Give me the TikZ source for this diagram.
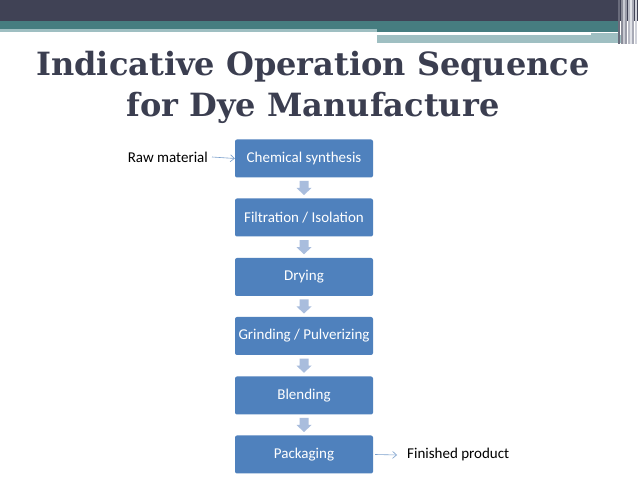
\documentclass[tikz,border=0pt]{standalone}
\usepackage{fontspec}
\setmainfont{Carlito}
\newfontfamily\titlefont{DejaVu Serif}
\usetikzlibrary{arrows.meta,calc}
\definecolor{hdark}{HTML}{404255}
\definecolor{hteal}{HTML}{467D80}
\definecolor{hlight}{HTML}{9FBFC2}
\definecolor{boxblue}{HTML}{4F81BD}
\definecolor{arrlight}{HTML}{A9BDDD}
\definecolor{titlecol}{HTML}{3B3E50}
\tikzset{
  stepbox/.style={fill=boxblue, rounded corners=2pt, minimum width=138pt, minimum height=38pt, text=white, font=\fontsize{15}{17}\selectfont, inner sep=0pt},
  downarr/.style={fill=arrlight, draw=none},
  sidelabel/.style={font=\fontsize{15}{17}\selectfont, text=black, inner sep=0pt},
  flowline/.style={draw=boxblue!75, line width=0.6pt, -{Straight Barb[length=4pt,width=7pt]}}
}
\begin{document}
\begin{tikzpicture}[x=1pt,y=-1pt]
\useasboundingbox (0,0) rectangle (638,478);
\fill[white] (0,0) rectangle (638,478);
% header
\fill[hdark] (0,0) rectangle (638,21);
\fill[hteal] (0,21) rectangle (618,29);
\fill[hlight] (0,29) rectangle (377,32);
\fill[hteal] (377,29) rectangle (618,32.5);
\fill[hlight] (377,35) rectangle (626,43);
\fill[white] (377,33.5) rectangle (591,35);
\fill[hlight] (591,33) rectangle (618,35);
\foreach \x/\c in {618/6A6C7C,621/8A8C98,623/C8CAD2,625/9A9CA8,628/B8BAC4,630/E0E2E8,632/A8AAB6,635/D0D2DA}{
  \definecolor{tmpc}{HTML}{\c}
  \fill[tmpc] (\x,0) rectangle ++(2.2,44);
}
% title
\node[font=\titlefont\bfseries\fontsize{32}{41}\selectfont, text=titlecol, align=center, inner sep=0pt, anchor=base] (title) at (313,117) {Indicative Operation Sequence\\for Dye Manufacture};
% boxes
\node[stepbox] (s1) at (304,158.5) {Chemical synthesis};
\node[stepbox] (s2) at (304,217.5) {Filtration / Isolation};
\node[stepbox] (s3) at (304,277) {Drying};
\node[stepbox] (s4) at (304,336) {Grinding / Pulverizing};
\node[stepbox] (s5) at (304,395.5) {Blending};
\node[stepbox] (s6) at (304,454.5) {Packaging};
\foreach \a/\b in {s1/s2,s2/s3,s3/s4,s4/s5,s5/s6}{
  \coordinate (m) at ($(\a.south)!0.5!(\b.north)$);
  \fill[downarr] ([shift={(-4.5,-7)}]m) -- ([shift={(4.5,-7)}]m) -- ([shift={(4.5,0)}]m)
     -- ([shift={(7.5,0)}]m) -- ([shift={(0,7)}]m) -- ([shift={(-7.5,0)}]m)
     -- ([shift={(-4.5,0)}]m) -- cycle;
}
% side labels
\node[sidelabel, anchor=east] (raw) at (208,157) {Raw material};
\node[sidelabel, anchor=west] (fin) at (407,455) {Finished product};
\draw[flowline] (raw.east) ++(4,0) coordinate (r1) -- (s1.west);
\draw[flowline] (s6.east) ++(2,0) coordinate (p1) -- ([xshift=-10pt]fin.west);
\end{tikzpicture}
\end{document}
